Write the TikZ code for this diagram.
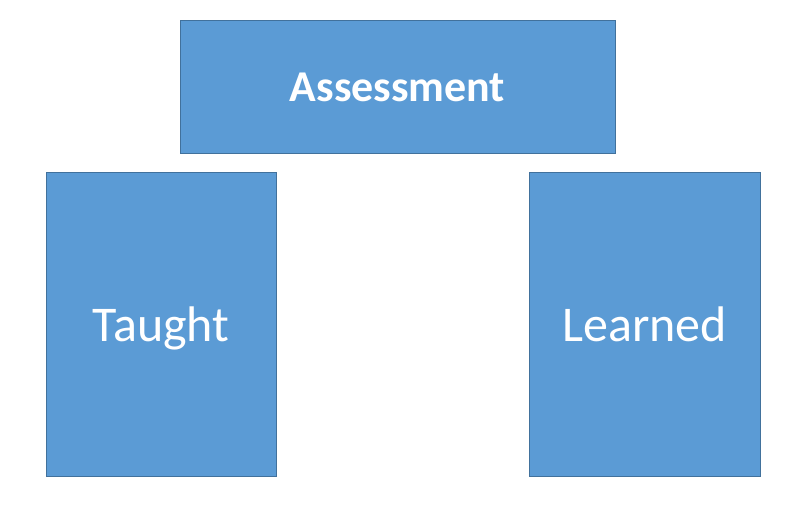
\documentclass[tikz,border=0pt]{standalone}
\usepackage{fontspec}
\setmainfont{Carlito}
\usetikzlibrary{positioning}
\definecolor{boxfill}{HTML}{5B9BD5}
\definecolor{boxline}{HTML}{41719C}
\begin{document}
\begin{tikzpicture}[x=1pt,y=-1pt,every node/.style={draw=boxline,fill=boxfill,line width=0.8pt,text=white,inner sep=0pt,text depth=0pt}]
  \useasboundingbox (0,0) rectangle (812,504);
  \node[minimum width=435pt,minimum height=133pt,font=\fontsize{44}{50}\selectfont\bfseries] (assess) at (397.5,87){Assessment};
  \node[minimum width=230pt,minimum height=304pt,font=\fontsize{50}{58}\selectfont] (taught) at (161,324){Taught};
  \node[minimum width=231pt,minimum height=304pt,font=\fontsize{50}{58}\selectfont] (learned) at (644.5,324){Learned};
\end{tikzpicture}
\end{document}
